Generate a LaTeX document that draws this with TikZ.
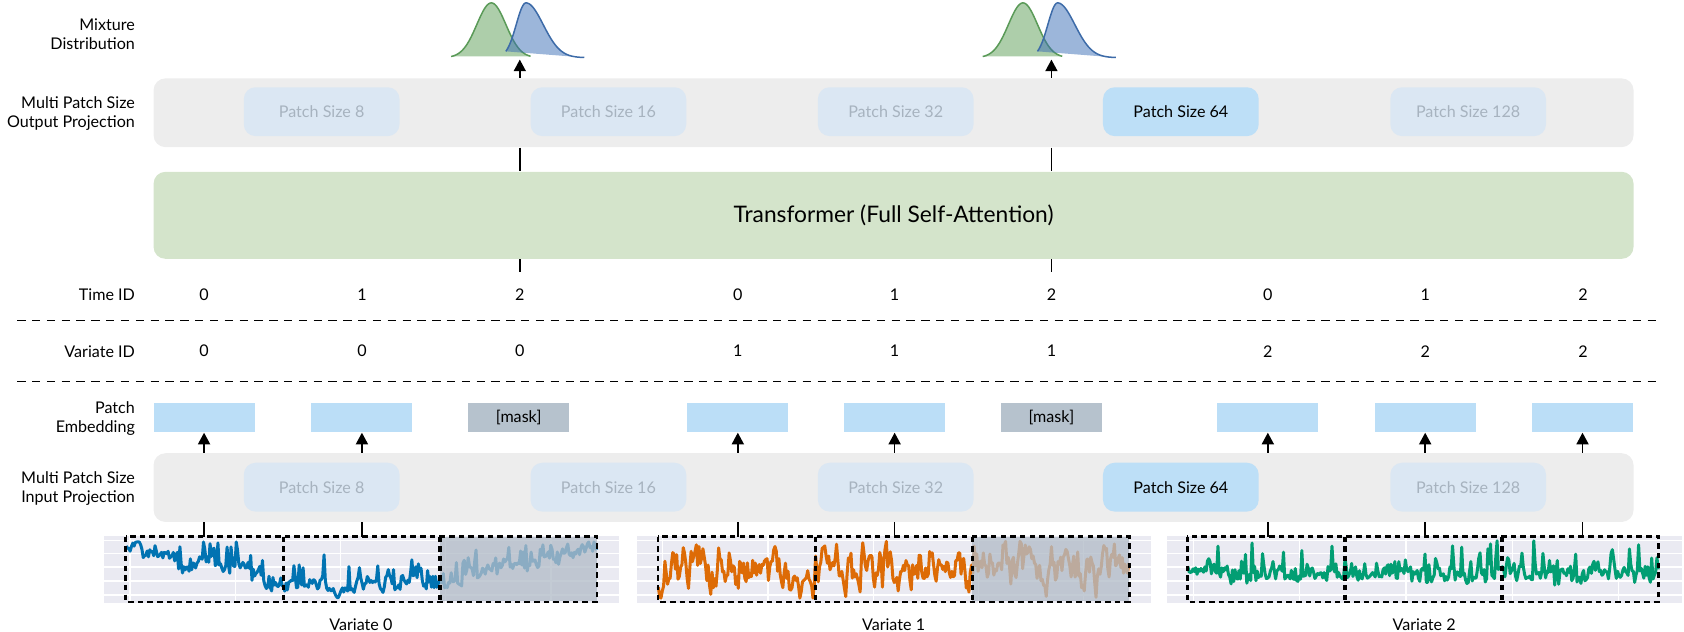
\documentclass[tikz,border=0pt]{standalone}
\usepackage{fontspec}
\setmainfont{Lato}
\usetikzlibrary{arrows.meta}
\definecolor{projbg}{HTML}{EDEDED}
\definecolor{psfade}{HTML}{DBE7F3}
\definecolor{psfadetext}{HTML}{A7B3BF}
\definecolor{psact}{HTML}{BDDFF7}
\definecolor{transc}{HTML}{D4E4CB}
\definecolor{embedc}{HTML}{BBDEF7}
\definecolor{maskc}{HTML}{B6C2CD}
\definecolor{plotbg}{HTML}{EAEAF2}
\definecolor{sblue}{HTML}{0173B2}
\definecolor{sorange}{HTML}{DD6B06}
\definecolor{sgreen}{HTML}{029E73}
\definecolor{dgreen}{HTML}{5B9E55}
\definecolor{dgreenline}{HTML}{5A9A58}
\definecolor{dblue}{HTML}{3A6DB5}
\definecolor{dblueline}{HTML}{3D6BA8}
\definecolor{overc}{HTML}{B3BDC8}
\begin{document}
\begin{tikzpicture}[x=0.5pt,y=-0.5pt, font=\fontsize{7.5}{9}\selectfont,
  lbl/.style={anchor=east, align=right, inner sep=0pt, text=black},
  proj/.style={fill=projbg, rounded corners=5.5pt, minimum width=689pt, minimum height=32pt, inner sep=0pt},
  psf/.style={fill=psfade, text=psfadetext, rounded corners=5.5pt, minimum width=72.5pt, minimum height=22.75pt, inner sep=0pt},
  psa/.style={psf, fill=psact, text=black},
  emb/.style={fill=embedc, minimum width=47pt, minimum height=13.5pt, inner sep=0pt},
  msk/.style={emb, fill=maskc},
  idn/.style={inner sep=0pt},
  arr/.style={line width=0.75pt, -{Triangle[length=5.4pt,width=5.6pt]}},
  tickl/.style={line width=0.75pt},
  sepl/.style={line width=0.65pt, dash pattern=on 3.9pt off 3pt},
  win/.style={minimum width=73pt, minimum height=30pt, inner sep=0pt},
  winl/.style={draw=black, line width=1.25pt, dash pattern=on 2.6pt off 1.9pt},
  divl/.style={draw=black, line width=1.7pt, dash pattern=on 2.6pt off 1.9pt},
  gridl/.style={white, line width=0.6pt},
  ser/.style={line width=1.4pt, line join=round},
]
\useasboundingbox (0,0) rectangle (1568,588);

% ---------- series data ----------
\pgfmathsetseed{11}
\gdef\serA{}\gdef\nA{0}
\foreach \i in {0,...,359}{%
 \pgfmathsetmacro\sT{\i/359}%
 \pgfmathsetmacro\sTr{ifthenelse(\sT<0.33,0.84-1.7*\sT,ifthenelse(\sT<0.62,0.24,0.26+1.7*(\sT-0.62)))}%
 \pgfmathsetmacro\sN{0.85*\nA+0.09*rand}%
 \xdef\nA{\sN}%
 \pgfmathsetmacro\sV{max(0.03,min(0.97,\sTr+\sN+0.04*rand+0.45*abs(rand)^7))}%
 \pgfmathsetmacro\sX{117.5+\i*1.2201}%
 \pgfmathsetmacro\sY{558-55*\sV}%
 \xdef\serA{\serA(\sX,\sY)}%
}
\pgfmathsetseed{23}
\gdef\serB{}\gdef\nB{0}
\foreach \i in {0,...,359}{%
 \pgfmathsetmacro\sN{0.6*\nB+0.3*rand}%
 \xdef\nB{\sN}%
 \pgfmathsetmacro\sV{max(0.02,min(0.98,0.55+\sN+0.09*rand))}%
 \pgfmathsetmacro\sX{613+\i*1.2201}%
 \pgfmathsetmacro\sY{558-55*\sV}%
 \xdef\serB{\serB(\sX,\sY)}%
}
\pgfmathsetseed{37}
\gdef\serC{}\gdef\nC{0}
\foreach \i in {0,...,359}{%
 \pgfmathsetmacro\sN{0.5*\nC+0.1*rand}%
 \xdef\nC{\sN}%
 \pgfmathsetmacro\sV{max(0.02,min(0.99,0.42+\sN+0.09*rand+0.55*abs(rand)^10))}%
 \pgfmathsetmacro\sX{1106+\i*1.2201}%
 \pgfmathsetmacro\sY{558-55*\sV}%
 \xdef\serC{\serC(\sX,\sY)}%
}

% ---------- row labels ----------
\node[lbl] (lmix) at (126,32) {Mixture\\Distribution};
\node[lbl] (lout) at (126,105.5) {Multi Patch Size\\Output Projection};
\node[lbl] (ltime) at (126,274) {Time ID};
\node[lbl] (lvar) at (126,327) {Variate ID};
\node[lbl] (lemb) at (126,389.5) {Patch\\Embedding};
\node[lbl] (linp) at (126,455) {Multi Patch Size\\Input Projection};

% ---------- output projection ----------
\node[proj] (outproj) at (832,105) {};
\node[psf] (op1) at (299.5,104) {Patch Size 8};
\node[psf] (op2) at (566.5,104) {Patch Size 16};
\node[psf] (op3) at (834,104) {Patch Size 32};
\node[psa] (op4) at (1099.5,104) {Patch Size 64};
\node[psf] (op5) at (1367,104) {Patch Size 128};

% ---------- transformer ----------
\node[proj, fill=transc, minimum height=40.5pt, font=\fontsize{10.6}{12}\selectfont] (trans) at (832,200.5) {Transformer (Full Self-Attention)};

% ---------- ids ----------
\foreach \px/\n/\val in {190/1/0, 337/2/1, 484/3/2, 687/4/0, 833/5/1, 979/6/2, 1180.5/7/0, 1327/8/1, 1474/9/2}
  \node[idn] (tid\n) at (\px,274) {\val};
\foreach \px/\n/\val in {190/1/0, 337/2/0, 484/3/0, 687/4/1, 833/5/1, 979/6/1, 1180.5/7/2, 1327/8/2, 1474/9/2}
  \node[idn] (vid\n) at (\px,327) {\val};
\coordinate (sepAl) at (16,298.5);
\coordinate (sepAr) at (1546,298.5);
\coordinate (sepBl) at (16,355);
\coordinate (sepBr) at (1546,355);
\draw[sepl] (sepAl) -- (sepAr);
\draw[sepl] (sepBl) -- (sepBr);

% ---------- patch embeddings ----------
\node[emb] (e1) at (190,389) {};
\node[emb] (e2) at (337,389) {};
\node[msk] (e3) at (483,389) {[mask]};
\node[emb] (e4) at (687,389) {};
\node[emb] (e5) at (833,389) {};
\node[msk] (e6) at (979,389) {[mask]};
\node[emb] (e7) at (1180.5,389) {};
\node[emb] (e8) at (1327,389) {};
\node[emb] (e9) at (1473.5,389) {};

% ---------- input projection ----------
\node[proj] (inproj) at (832,454) {};
\node[psf] (ip1) at (299.5,453.6) {Patch Size 8};
\node[psf] (ip2) at (566.5,453.6) {Patch Size 16};
\node[psf] (ip3) at (834,453.6) {Patch Size 32};
\node[psa] (ip4) at (1099.5,453.6) {Patch Size 64};
\node[psf] (ip5) at (1367,453.6) {Patch Size 128};

% ---------- plots ----------
\fill[plotbg] (97,499) rectangle (576,561);
\fill[plotbg] (593,499) rectangle (1072,561);
\fill[plotbg] (1087,499) rectangle (1566,561);
\foreach \gy in {503,515.5,528,541,554}{
  \draw[gridl] (97,\gy) -- (576,\gy);
  \draw[gridl] (593,\gy) -- (1072,\gy);
  \draw[gridl] (1087,\gy) -- (1566,\gy);
}
\foreach \gx in {121,219,317,415,513, 617,715,813,911,1009, 1111,1210,1309,1408,1507}
  \draw[gridl] (\gx,499) -- (\gx,561);
\edef\tmpdraw{\noexpand\draw[ser, sblue] plot coordinates {\serA};}\tmpdraw
\edef\tmpdraw{\noexpand\draw[ser, sorange] plot coordinates {\serB};}\tmpdraw
\edef\tmpdraw{\noexpand\draw[ser, sgreen] plot coordinates {\serC};}\tmpdraw
\fill[overc, opacity=0.78] (409.5,500) rectangle (555.5,560);
\fill[overc, opacity=0.78] (905,500) rectangle (1051,560);

\node[win] (w1) at (190.5,530) {};
\node[win] (w2) at (336.5,530) {};
\node[win] (w3) at (482.5,530) {};
\node[win] (w4) at (686,530) {};
\node[win] (w5) at (832,530) {};
\node[win] (w6) at (978,530) {};
\node[win] (w7) at (1179,530) {};
\node[win] (w8) at (1325,530) {};
\node[win] (w9) at (1471,530) {};
\foreach \a/\b/\c in {1/2/3, 4/5/6, 7/8/9}{
  \draw[winl] (w\a.north west) rectangle (w\c.south east);
  \draw[divl] (w\a.north east) -- (w\a.south east);
  \draw[divl] (w\b.north east) -- (w\b.south east);
}

\node[idn] (v0) at (336,582) {Variate 0};
\node[idn] (v1) at (832,582) {Variate 1};
\node[idn] (v2) at (1326,582) {Variate 2};

% ---------- mixture distributions ----------
\foreach \s in {0,495}{
  \fill[dgreen, fill opacity=0.5] plot[domain=420:494, samples=60] ({\x+\s},{53.7-51*exp(-((\x-457.5)/13.5)^2/2)}) -- cycle;
  \draw[dgreenline, line width=0.7pt] plot[domain=420:494, samples=60] ({\x+\s},{53.7-51*exp(-((\x-457.5)/13.5)^2/2)});
  \fill[dblue, fill opacity=0.5] plot[domain=471:489.7, samples=25] ({\x+\s},{53.7-51*exp(-((\x-489.7)/9)^2/2)}) -- plot[domain=489.7:544, samples=50] ({\x+\s},{53.7-51*exp(-((\x-489.7)/16)^2/2)}) -- cycle;
  \draw[dblueline, line width=0.7pt] plot[domain=471:489.7, samples=25] ({\x+\s},{53.7-51*exp(-((\x-489.7)/9)^2/2)}) -- plot[domain=489.7:544, samples=50] ({\x+\s},{53.7-51*exp(-((\x-489.7)/16)^2/2)});
}
\coordinate (dist1) at (484,55.5);
\coordinate (dist2) at (979,55.5);

% ---------- connectors ----------
\draw[arr] (outproj.north -| dist1) -- (dist1);
\draw[arr] (outproj.north -| dist2) -- (dist2);
\draw[tickl] (outproj.south -| tid3) -- (trans.north -| tid3);
\draw[tickl] (outproj.south -| tid6) -- (trans.north -| tid6);
\coordinate (tk3) at (484,253);
\coordinate (tk6) at (979,253);
\draw[tickl] (trans.south -| tk3) -- (tk3);
\draw[tickl] (trans.south -| tk6) -- (tk6);
\foreach \n in {1,2,4,5,7,8,9}{
  \draw[arr] (inproj.north -| e\n) -- (e\n.south);
  \draw[tickl] (inproj.south -| e\n) -- (w\n.north -| e\n);
}
\end{tikzpicture}
\end{document}
